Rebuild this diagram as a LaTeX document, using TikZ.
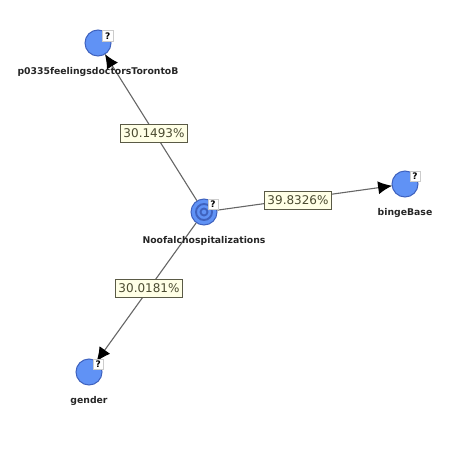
\documentclass[tikz,border=0pt]{standalone}
\usepackage{fontspec}
\setmainfont{DejaVu Sans}
\usetikzlibrary{arrows.meta}
\definecolor{nodefill}{HTML}{6092F5}
\definecolor{nodeedge}{HTML}{3F62BE}
\definecolor{labelfill}{HTML}{FFFFE6}
\definecolor{labeledge}{HTML}{5A5A46}
\definecolor{labeltext}{HTML}{4A4A30}
\definecolor{edgecol}{HTML}{666666}
\tikzset{
  x=1pt,y=-1pt,
  netnode/.style={circle,draw=nodeedge,fill=nodefill,line width=1pt,minimum size=26pt,inner sep=0pt},
  hubring/.style={circle,draw=nodeedge,line width=1.9pt,inner sep=0pt},
  qbox/.style={draw=black!20,fill=white,line width=0.4pt,minimum size=10.5pt,inner sep=0pt,font=\fontsize{9}{9}\selectfont\bfseries},
  pct/.style={draw=labeledge,fill=labelfill,line width=0.8pt,minimum width=67pt,minimum height=18pt,inner sep=0pt,text=labeltext,font=\fontsize{12}{13}\selectfont},
  nodetitle/.style={font=\fontsize{9.3}{10}\selectfont\bfseries,text=black!85,inner sep=0pt},
  linkline/.style={draw=edgecol,line width=1.1pt,-{Latex[black,length=14pt,width=13pt]},shorten >=-0.5pt}
}
\begin{document}
\begin{tikzpicture}
\useasboundingbox (0,0) rectangle (474,474);
\node[netnode] (top) at (98,43) {};
\node[netnode] (right) at (405,184) {};
\node[netnode] (bottom) at (89,372) {};
\node[netnode] (hub) at (204,212) {};
\node[hubring,minimum size=16pt] (hubouter) at (hub) {};
\node[hubring,minimum size=7pt] (hubcore) at (hub) {};
\draw[linkline] (hub) -- (top);
\draw[linkline] (hub) -- (right);
\draw[linkline] (hub) -- (bottom);
\node[qbox] (qt) at (107.7,35.7) {?};
\node[qbox] (qh) at (213,204) {?};
\node[qbox] (qr) at (415,176) {?};
\node[qbox] (qb) at (98.3,364) {?};
\node[pct] (lt) at (154,133) {30.1493\%};
\node[pct] (lr) at (298,200) {39.8326\%};
\node[pct] (lb) at (149,288) {30.0181\%};
\node[nodetitle] (nt) at (98,72) {p0335feelingsdoctorsTorontoB};
\node[nodetitle] (nh) at (204,241) {Noofalchospitalizations};
\node[nodetitle] (nr) at (405,212.5) {bingeBase};
\node[nodetitle] (nb) at (89,401) {gender};
\end{tikzpicture}
\end{document}
